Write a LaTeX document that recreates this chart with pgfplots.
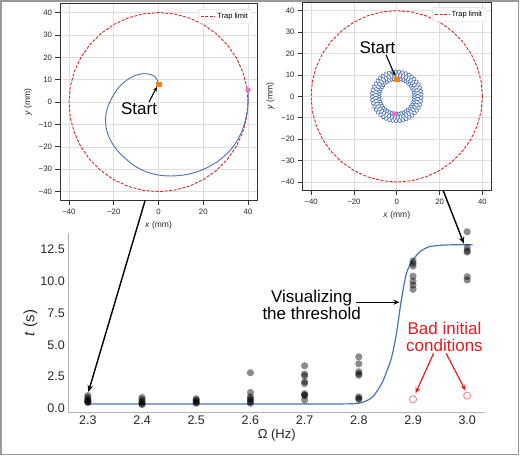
\documentclass[border=0pt]{standalone}
\usepackage{fontspec}
\setmainfont{Liberation Sans}
\usepackage{pgfplots}
\pgfplotsset{compat=1.18}
\usepgfplotslibrary{polar}
\usetikzlibrary{arrows.meta}
\definecolor{sblue}{HTML}{4C72B0}
\definecolor{tred}{HTML}{D62728}
\definecolor{torange}{HTML}{FF7F0E}
\definecolor{tpink}{HTML}{E377C2}
\definecolor{annred}{HTML}{E41A1C}
\definecolor{spine}{HTML}{B4AFBC}
\pgfplotsset{
  traj/.style={
    scale only axis, anchor=south west,
    xmin=-44, xmax=44, ymin=-44, ymax=44,
    axis line style={draw=black!80, line width=0.8pt},
    tick align=outside, tick pos=left, major tick length=4.5pt,
    tick style={black!80, line width=0.8pt},
    grid=major, major grid style={black!13, line width=0.6pt},
    xtick={-40,-20,0,20,40}, xticklabels={−40,−20,0,20,40},
    ytick={-40,-30,-20,-10,0,10,20,30,40},
    yticklabels={−40,−30,−20,−10,0,10,20,30,40},
    ticklabel style={font=\fontsize{7.8}{9}\selectfont, text=black!85},
    label style={font=\fontsize{8.5}{10}\selectfont, text=black!85},
    xlabel={\textit{x} (mm)}, ylabel={\textit{y} (mm)},
    legend style={at={(0.975,0.972)}, anchor=north east,
      font=\fontsize{7.5}{8}\selectfont, draw=black!15, fill=white,
      rounded corners=1.5pt, inner xsep=2pt, inner ysep=1.5pt,
      cells={anchor=west}},
    legend image code/.code={\draw[#1] (0pt,0pt) -- (14pt,0pt);},
  },
  trap/.style={tred, line width=0.9pt, dash pattern=on 3pt off 1.5pt},
}
\begin{document}
\begin{tikzpicture}
% ---------------- bottom axis ----------------
\begin{axis}[name=bot, scale only axis, anchor=south west,
  at={(68.3pt,43.3pt)}, width=416.8pt, height=179.7pt,
  xmin=2.264, xmax=3.033, ymin=-0.346, ymax=13.8,
  axis lines=left, axis line style={-, draw=spine, line width=1.1pt},
  major tick length=0pt,
  xtick={2.3,2.4,2.5,2.6,2.7,2.8,2.9,3.0},
  xticklabels={2.3,2.4,2.5,2.6,2.7,2.8,2.9,3.0},
  ytick={0,2.5,5,7.5,10,12.5},
  yticklabels={0.0,2.5,5.0,7.5,10.0,12.5},
  ticklabel style={font=\fontsize{12.5}{14}\selectfont, text=black!85},
  xlabel={Ω (Hz)}, ylabel={\textit{t} (s)},
  xlabel style={font=\fontsize{13}{15}\selectfont, text=black!85, yshift=3pt},
  ylabel style={font=\fontsize{15}{17}\selectfont, text=black!85, yshift=-4pt},
  clip=false]
\addplot[sblue, line width=1.2pt, smooth, tension=0.4] coordinates {
  (2.30,0.34) (2.50,0.34) (2.70,0.34) (2.78,0.35) (2.80,0.40) (2.81,0.52)
  (2.826,0.91) (2.844,2.1) (2.860,3.94) (2.869,5.77) (2.878,8.4)
  (2.887,10.5) (2.897,11.5) (2.912,12.3) (2.930,12.72) (2.961,12.86)
  (3.010,12.87)};
\addplot[only marks, mark=*, mark size=3.6pt,
  mark options={fill=black, draw=black, fill opacity=0.45, draw opacity=0}] coordinates {
  (2.3,1.0) (2.3,0.85) (2.3,0.7) (2.3,0.6) (2.3,0.5) (2.3,0.45) (2.3,0.55)
  (2.4,0.85) (2.4,0.7) (2.4,0.55) (2.4,0.45) (2.4,0.35) (2.4,0.3)
  (2.5,0.75) (2.5,0.65) (2.5,0.55) (2.5,0.45) (2.5,0.4)
  (2.6,2.8) (2.6,1.25) (2.6,0.9) (2.6,0.75) (2.6,0.65) (2.6,0.5) (2.6,0.4)
  (2.7,3.35) (2.7,2.7) (2.7,2.55) (2.7,2.1) (2.7,1.95) (2.7,1.15) (2.7,1.05)
  (2.7,1.0) (2.7,0.65)
  (2.8,4.05) (2.8,3.5) (2.8,2.88) (2.8,2.72) (2.8,2.6) (2.8,0.9) (2.8,0.78)
  (2.8,0.7)
  (2.9,11.6) (2.9,11.4) (2.9,11.2) (2.9,10.4) (2.9,10.0) (2.9,9.7) (2.9,9.37)
  (3.0,13.9) (3.0,12.65) (3.0,12.4) (3.0,12.3) (3.0,10.36) (3.0,10.1)};
\addplot[only marks, mark=o, mark size=3.6pt,
  mark options={draw=annred!70, line width=0.9pt, draw opacity=0.75}] coordinates {
  (2.9,0.71) (3.0,1.0)};
\node[align=center, font=\fontsize{17}{17}\selectfont] at (axis cs:2.713,8.14)
  {Visualizing\\the threshold};
\node[align=center, text=annred, font=\fontsize{17}{17}\selectfont]
  at (axis cs:2.958,5.6) {Bad initial\\conditions};
\draw[-{Stealth[length=6pt,width=5pt]}, line width=1.3pt]
  (axis cs:2.794,8.35) -- (axis cs:2.875,8.35);
\draw[-{Stealth[length=6pt,width=5pt]}, annred, line width=1.2pt]
  (axis cs:2.938,4.33) -- (axis cs:2.9046,1.18);
\draw[-{Stealth[length=6pt,width=5pt]}, annred, line width=1.2pt]
  (axis cs:2.961,4.33) -- (axis cs:2.997,1.39);
\coordinate (e1) at (axis cs:2.301,1.28);
\coordinate (e2) at (axis cs:2.994,12.95);
\end{axis}
% ---------------- top-left axis ----------------
\begin{axis}[name=tl, traj, at={(60pt,255.4pt)}, width=197pt, height=197pt]
\addplot[trap, data cs=polar] coordinates {
  (0,40) (10,40) (20,40) (30,40) (40,40) (50,40) (60,40) (70,40) (80,40)
  (90,40) (100,40) (110,40) (120,40) (130,40) (140,40) (150,40) (160,40)
  (170,40) (180,40) (190,40) (200,40) (210,40) (220,40) (230,40) (240,40)
  (250,40) (260,40) (270,40) (280,40) (290,40) (300,40) (310,40) (320,40)
  (330,40) (340,40) (350,40) (360,40)};
\addlegendentry{Trap limit}
\addplot[sblue, line width=0.9pt, smooth, tension=0.5, forget plot] coordinates {
  (0,8) (-0.6,10) (-1.8,11.5) (-3.8,12.4) (-6.5,12.7) (-9.5,12.2)
  (-12.5,10.9) (-15.5,8.8) (-18.2,6) (-20.5,2.5) (-22.4,-1.5) (-23.5,-5.5)
  (-23.6,-9.5) (-22.9,-13.5) (-21.2,-17.5) (-18.5,-21.5) (-15,-25)
  (-10.5,-28.6) (-5.5,-31.1) (0,-32.6) (5.5,-33) (11,-32.6) (16.5,-31.4)
  (21.5,-29.4) (26,-26.8) (30,-23.6) (33.5,-19.7) (36.3,-15) (38.3,-10)
  (39.6,-4.5) (40.1,1) (40,5.4)};
\addplot[only marks, mark=square*, mark size=2.3pt, torange, forget plot]
  coordinates {(0,8)};
\addplot[only marks, mark=*, mark size=2.4pt, tpink, forget plot]
  coordinates {(40,5.4)};
\node[font=\fontsize{17}{17}\selectfont] at (axis cs:-8.7,-3.0) {Start};
\draw[-{Stealth[length=4.5pt,width=4pt]}, line width=1.1pt]
  (axis cs:-4.2,0.1) -- (axis cs:-0.7,6.8);
\coordinate (s1) at (axis cs:-6,-44);
\end{axis}
% ---------------- top-right axis ----------------
\begin{axis}[name=tr, traj, at={(302.5pt,265.4pt)}, width=188.5pt, height=188.5pt]
\addplot[trap, data cs=polar] coordinates {
  (0,40) (10,40) (20,40) (30,40) (40,40) (50,40) (60,40) (70,40) (80,40)
  (90,40) (100,40) (110,40) (120,40) (130,40) (140,40) (150,40) (160,40)
  (170,40) (180,40) (190,40) (200,40) (210,40) (220,40) (230,40) (240,40)
  (250,40) (260,40) (270,40) (280,40) (290,40) (300,40) (310,40) (320,40)
  (330,40) (340,40) (350,40) (360,40)};
\addlegendentry{Trap limit}
\addplot[sblue, line width=0.6pt, smooth, tension=0.6, data cs=polar, forget plot]
 coordinates {
(90,8.575) (95.3,11.125) (100.7,12.4) (106,11.125) (111.3,8.575) (116.7,7.3)
(122,8.575) (127.3,11.125) (132.7,12.4) (138,11.125) (143.3,8.575) (148.7,7.3)
(154,8.575) (159.3,11.125) (164.7,12.4) (170,11.125) (175.3,8.575) (180.7,7.3)
(186,8.575) (191.3,11.125) (196.7,12.4) (202,11.125) (207.3,8.575) (212.7,7.3)
(218,8.575) (223.3,11.125) (228.7,12.4) (234,11.125) (239.3,8.575) (244.7,7.3)
(250,8.575) (255.3,11.125) (260.7,12.4) (266,11.125) (271.3,8.575) (276.7,7.3)
(282,8.575) (287.3,11.125) (292.7,12.4) (298,11.125) (303.3,8.575) (308.7,7.3)
(314,8.575) (319.3,11.125) (324.7,12.4) (330,11.125) (335.3,8.575) (340.7,7.3)
(346,8.575) (351.3,11.125) (356.7,12.4) (362,11.125) (367.3,8.575) (372.7,7.3)
(378,8.575) (383.3,11.125) (388.7,12.4) (394,11.125) (399.3,8.575) (404.7,7.3)
(410,8.575) (415.3,11.125) (420.7,12.4) (426,11.125) (431.3,8.575) (436.7,7.3)
(442,8.575) (447.3,11.125) (452.7,12.4) (458,11.125) (463.3,8.575) (468.7,7.3)
(474,8.575) (479.3,11.125) (484.7,12.4) (490,11.125) (495.3,8.575) (500.7,7.3)
(506,8.575) (511.3,11.125) (516.7,12.4) (522,11.125) (527.3,8.575) (532.7,7.3)
(538,8.575) (543.3,11.125) (548.7,12.4) (554,11.125) (559.3,8.575) (564.7,7.3)
(570,8.575) (575.3,11.125) (580.7,12.4) (586,11.125) (591.3,8.575) (596.7,7.3)
(602,8.575) (607.3,11.125) (612.7,12.4) (618,11.125) (623.3,8.575) (628.7,7.3)
(634,8.575) (639.3,11.125) (644.7,12.4) (650,11.125) (655.3,8.575) (660.7,7.3)
(666,8.575) (671.3,11.125) (676.7,12.4) (682,11.125) (687.3,8.575) (692.7,7.3)
(698,8.575) (703.3,11.125) (708.7,12.4) (714,11.125) (719.3,8.575) (724.7,7.3)
(730,8.575) (735.3,11.125) (740.7,12.4) (746,11.125) (751.3,8.575) (756.7,7.3)
(762,8.575) (767.3,11.125) (772.7,12.4) (778,11.125) (783.3,8.575) (788.7,7.3)
(794,8.575) (799.3,11.125) (804.7,12.4) (810,11.125) (815.3,8.575) (820.7,7.3)
(826,8.575) (831.3,11.125) (836.7,12.4) (842,11.125) (847.3,8.575) (852.7,7.3)
(858,8.575) (863.3,11.125) (868.7,12.4) (874,11.125) (879.3,8.575) (884.7,7.3)
(890,8.575) (895.3,11.125) (900.7,12.4) (906,11.125) (911.3,8.575) (916.7,7.3)
(922,8.575) (927.3,11.125) (932.7,12.4) (938,11.125) (943.3,8.575) (948.7,7.3)
(954,8.575) (959.3,11.125) (964.7,12.4) (970,11.125) (975.3,8.575) (980.7,7.3)
(986,8.575) (991.3,11.125) (996.7,12.4) (1002,11.125) (1007.3,8.575) (1012.7,7.3)
(1018,8.575) (1023.3,11.125) (1028.7,12.4) (1034,11.125) (1039.3,8.575) (1044.7,7.3)
(1050,8.575) (1055.3,11.125) (1060.7,12.4) (1066,11.125) (1071.3,8.575) (1076.7,7.3)
(1082,8.575) (1087.3,11.125) (1092.7,12.4) (1098,11.125) (1103.3,8.575) (1108.7,7.3)
(1114,8.575) (1119.3,11.125) (1124.7,12.4) (1130,11.125) (1135.3,8.575) (1140.7,7.3)
(1146,8.575) (1151.3,11.125) (1156.7,12.4) (1162,11.125) (1167.3,8.575) (1172.7,7.3)
(1178,8.575) (1183.3,11.125) (1188.7,12.4) (1194,11.125) (1199.3,8.575) (1204.7,7.3)
(1210,8.575) (1215.3,11.125) (1220.7,12.4) (1226,11.125) (1231.3,8.575) (1236.7,7.3)
(1242,8.575) (1247.3,11.125) (1252.7,12.4) (1258,11.125) (1263.3,8.575) (1268.7,7.3)
(1274,8.575) (1279.3,11.125) (1284.7,12.4) (1290,11.125) (1295.3,8.575) (1300.7,7.3)
(1306,8.575) (1311.3,11.125) (1316.7,12.4) (1322,11.125) (1327.3,8.575) (1332.7,7.3)
(1338,8.575) (1343.3,11.125) (1348.7,12.4) (1354,11.125) (1359.3,8.575) (1364.7,7.3)
(1370,8.575) (1375.3,11.125) (1380.7,12.4) (1386,11.125) (1391.3,8.575) (1396.7,7.3)
(1402,8.575) (1407.3,11.125) (1412.7,12.4) (1418,11.125) (1423.3,8.575) (1428.7,7.3)
(1434,8.575) (1439.3,11.125) (1444.7,12.4) (1450,11.125) (1455.3,8.575) (1460.7,7.3)
(1466,8.575) (1471.3,11.125) (1476.7,12.4) (1482,11.125) (1487.3,8.575) (1492.7,7.3)
(1498,8.575) (1503.3,11.125) (1508.7,12.4) (1514,11.125) (1519.3,8.575) (1524.7,7.3)
(1530,8.575)};
\addplot[only marks, mark=square*, mark size=2.3pt, torange, forget plot]
  coordinates {(0,8)};
\addplot[only marks, mark=*, mark size=2.4pt, tpink, forget plot]
  coordinates {(-1.2,-8.2)};
\node[font=\fontsize{17}{17}\selectfont] at (axis cs:-9.0,22.8) {Start};
\draw[-{Stealth[length=4.5pt,width=4pt]}, line width=1.1pt]
  (axis cs:-5.0,19.4) -- (axis cs:-0.8,9.6);
\coordinate (s2) at (axis cs:21.7,-44);
\end{axis}
% ---------------- connecting arrows ----------------
\draw[-{Stealth[length=7pt,width=5.5pt]}, line width=1.4pt] (s1) -- (e1);
\draw[-{Stealth[length=7pt,width=5.5pt]}, line width=1.4pt] (s2) -- (e2);
% frame
\draw[black!40, line width=1.3pt] (1pt,1.8pt) rectangle (518.6pt,455pt);
\pgfresetboundingbox
\path[use as bounding box] (0,0) rectangle (520pt,456pt);
\end{tikzpicture}
\end{document}
